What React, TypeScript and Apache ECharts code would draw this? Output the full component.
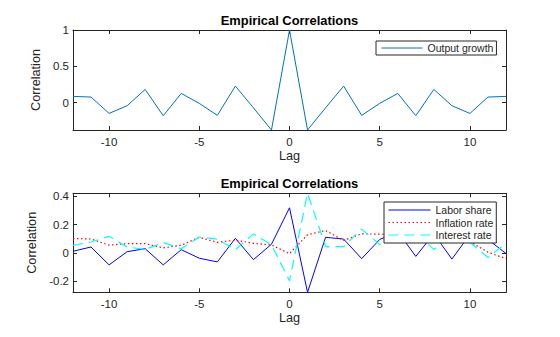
import React, { useEffect, useRef } from "react";
import * as echarts from "echarts";

const lags = [-12, -11, -10, -9, -8, -7, -6, -5, -4, -3, -2, -1, 0, 1, 2, 3, 4, 5, 6, 7, 8, 9, 10, 11, 12];
const outputGrowth = [0.087, 0.078, -0.147, -0.041, 0.183, -0.179, 0.128, -0.009, -0.174, 0.229, -0.07, -0.375, 1, -0.375, -0.07, 0.229, -0.174, -0.009, 0.128, -0.179, 0.183, -0.041, -0.147, 0.078, 0.087];
const laborShare = [0.012, 0.042, -0.084, 0.009, 0.03, -0.084, 0.023, -0.037, -0.063, 0.103, -0.047, 0.061, 0.318, -0.277, 0.11, 0.098, -0.04, 0.095, 0.15, -0.024, 0.135, -0.043, 0.13, 0.095, -0.004];
const inflationRate = [0.102, 0.098, 0.055, 0.066, 0.066, 0.036, 0.054, 0.11, 0.075, 0.09, 0.068, 0.056, -0.005, 0.128, 0.158, 0.088, 0.135, 0.132, 0.13, 0.12, 0.12, 0.1, 0.08, 0.005, -0.04];
const interestRate = [0.054, 0.077, 0.117, 0.042, 0.025, 0.073, 0.03, 0.112, 0.097, 0.023, 0.134, 0.058, -0.196, 0.42, 0.045, 0.045, 0.168, 0.06, 0.1, 0.14, 0.025, 0.12, 0.075, -0.032, 0.068];
const xTicks = [-10, -5, 0, 5, 10];
const yTicksTop = [0, 0.5, 1];
const yTicksBottom = [-0.2, 0, 0.2, 0.4];

const AX = "#262626";
const FONT = "'Liberation Sans', Arial, Helvetica, sans-serif";

const pairs = (ys: number[]) => lags.map((x, i) => [x, ys[i]]);

function xAxes(gridIndex: number) {
  const common = {
    type: "value" as const,
    gridIndex,
    min: -12,
    max: 12,
    splitLine: { show: false },
    axisLine: { show: true, onZero: false, lineStyle: { color: AX, width: 1 } },
    axisTick: { show: true, inside: true, length: 4, customValues: xTicks, lineStyle: { color: AX } },
  };
  return [
    {
      ...common,
      position: "bottom",
      axisLabel: { show: true, customValues: xTicks, margin: 6, color: AX, fontSize: 11.5, fontFamily: FONT, formatter: (v: number) => String(v) },
      name: "Lag",
      nameLocation: "middle",
      nameGap: 19.5,
      nameTextStyle: { color: AX, fontSize: 12.7, fontFamily: FONT },
    },
    { ...common, position: "top", axisLabel: { show: false } },
  ];
}

function yAxes(gridIndex: number, min: number, max: number, ticks: number[], gap: number) {
  const common = {
    type: "value" as const,
    gridIndex,
    min,
    max,
    splitLine: { show: false },
    axisLine: { show: true, onZero: false, lineStyle: { color: AX, width: 1 } },
    axisTick: { show: true, inside: true, length: 4, customValues: ticks, lineStyle: { color: AX } },
  };
  return [
    {
      ...common,
      position: "left",
      axisLabel: { show: true, customValues: ticks, margin: 4, color: AX, fontSize: 11.5, fontFamily: FONT, formatter: (v: number) => String(v) },
      name: "Correlation",
      nameLocation: "middle",
      nameGap: gap,
      nameTextStyle: { color: AX, fontSize: 12.7, fontFamily: FONT },
    },
    { ...common, position: "right", axisLabel: { show: false } },
  ];
}

export default function App() {
  const ref = useRef<HTMLDivElement>(null);
  useEffect(() => {
    if (!ref.current) return;
    const chart = echarts.init(ref.current, null, { renderer: "svg" });
    const legendText = { color: AX, fontSize: 10.5, fontFamily: FONT, lineHeight: 12 };
    const legendCommon = {
      orient: "vertical",
      icon: "inherit",
      itemHeight: 12,
      borderColor: AX,
      borderWidth: 1,
      borderRadius: 0,
      backgroundColor: "#fff",
      textStyle: legendText,
      itemStyle: { opacity: 0 },
      lineStyle: { width: 1 },
    };
    chart.setOption({
      animation: false,
      backgroundColor: "#fff",
      grid: [
        { left: 73, top: 30, width: 433, height: 100, containLabel: false },
        { left: 73, top: 193.3, width: 433, height: 99, containLabel: false },
      ],
      xAxis: [...xAxes(0), ...xAxes(1)],
      yAxis: [...yAxes(0, -0.375, 1, yTicksTop, 23), ...yAxes(1, -0.277, 0.42, yTicksBottom, 27)],
      graphic: [
        { type: "text", x: 289.5, y: 20, style: { text: "Empirical Correlations", fontSize: 12.9, fontWeight: "bold", fontFamily: FONT, fill: "#000", align: "center", verticalAlign: "middle" } },
        { type: "text", x: 289.5, y: 183.5, style: { text: "Empirical Correlations", fontSize: 12.9, fontWeight: "bold", fontFamily: FONT, fill: "#000", align: "center", verticalAlign: "middle" } },
      ],
      legend: [
        {
          ...legendCommon,
          data: ["Output growth"],
          left: 376,
          top: 41,
          padding: [1, 3, 1, 5],
          itemWidth: 41,
        },
        {
          ...legendCommon,
          data: ["Labor share", "Inflation rate", "Interest rate"],
          left: 384,
          top: 202,
          padding: [2, 3, 2, 4],
          itemGap: 0.5,
          itemWidth: 42,
        },
      ],
      series: [
        { name: "Output growth", type: "line", xAxisIndex: 0, yAxisIndex: 0, data: pairs(outputGrowth), symbol: "none", lineStyle: { color: "#0072BD", width: 1 }, itemStyle: { color: "#0072BD" } },
        { name: "Labor share", type: "line", xAxisIndex: 2, yAxisIndex: 2, data: pairs(laborShare), symbol: "none", lineStyle: { color: "#0000FF", width: 1 }, itemStyle: { color: "#0000FF" } },
        { name: "Inflation rate", type: "line", xAxisIndex: 2, yAxisIndex: 2, data: pairs(inflationRate), symbol: "none", lineStyle: { color: "#FF0000", width: 1.2, type: [1.5, 2.5] }, itemStyle: { color: "#FF0000" } },
        { name: "Interest rate", type: "line", xAxisIndex: 2, yAxisIndex: 2, data: pairs(interestRate), symbol: "none", lineStyle: { color: "#00FFFF", width: 1.2, type: [10, 6] }, itemStyle: { color: "#00FFFF" } },
      ],
    });
    return () => chart.dispose();
  }, []);
  return <div ref={ref} style={{ position: "fixed", left: 0, top: 0, width: 560, height: 337 }} />;
}
